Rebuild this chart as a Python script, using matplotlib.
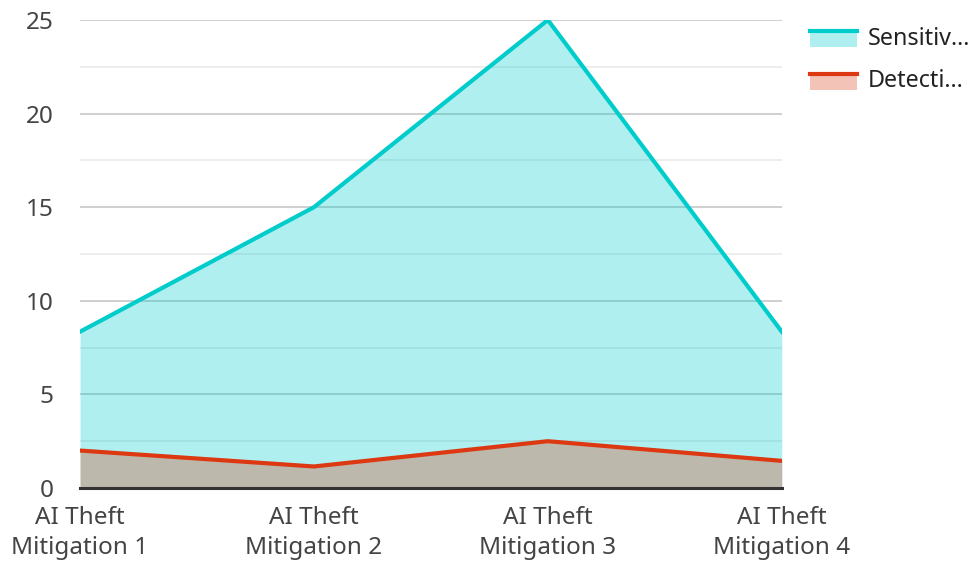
import matplotlib
matplotlib.use("Agg")
import matplotlib.pyplot as plt
from matplotlib.patches import Rectangle
from matplotlib.lines import Line2D

plt.rcParams["font.family"] = ["Noto Sans", "DejaVu Sans"]

categories = ["AI Theft\nMitigation 1", "AI Theft\nMitigation 2",
              "AI Theft\nMitigation 3", "AI Theft\nMitigation 4"]
sensitive = [8.35, 15, 25, 8.35]
detection = [2.0, 1.15, 2.5, 1.45]
series_names = ["Sensitiv…", "Detecti…"]

cyan = "#00CCCC"
red = "#DC3912"

fig = plt.figure(figsize=(9.76, 5.63), dpi=100)
ax = fig.add_axes([0.082, 0.1332, 0.719, 0.8313])

x = list(range(len(categories)))

ax.fill_between(x, 0, sensitive, color=cyan, alpha=0.31, linewidth=0, zorder=2)
ax.plot(x, sensitive, color=cyan, lw=3, zorder=4)
ax.fill_between(x, 0, detection, color=red, alpha=0.3, linewidth=0, zorder=3)
ax.plot(x, detection, color=red, lw=3, zorder=5)

ax.set_xlim(0, 3)
ax.set_ylim(0, 25)
ax.set_yticks([0, 5, 10, 15, 20, 25])
ax.set_yticks([2.5, 7.5, 12.5, 17.5, 22.5], minor=True)
ax.grid(axis="y", which="major", color="#cccccc", lw=1.3, zorder=1)
ax.grid(axis="y", which="minor", color="#e8e8e8", lw=1.1, zorder=1)
ax.axhline(0, color="#333333", lw=2.2, zorder=6, clip_on=False)

ax.set_xticks(x)
ax.set_xticklabels(categories, linespacing=1.35)
ax.tick_params(axis="both", which="both", length=0, labelsize=17.5, labelcolor="#444444")
ax.tick_params(axis="y", pad=19)
ax.tick_params(axis="x", pad=13)
for s in ax.spines.values():
    s.set_visible(False)


class LineOverFill:
    def __init__(self, color, alpha):
        self.color = color
        self.alpha = alpha

    def legend_artist(self, legend, orig_handle, fontsize, handlebox):
        x0, y0 = handlebox.xdescent, handlebox.ydescent
        w, h = handlebox.width, handlebox.height
        rect = Rectangle((x0, y0 - 2), w, h, facecolor=self.color, alpha=self.alpha,
                         edgecolor="none", transform=handlebox.get_transform())
        line = Line2D([x0, x0 + w], [y0 + h - 3, y0 + h - 3], color=self.color, lw=3,
                      transform=handlebox.get_transform())
        handlebox.add_artist(rect)
        handlebox.add_artist(line)
        return rect


h1 = Line2D([], [], color=cyan)
h2 = Line2D([], [], color=red)
leg = fig.legend([h1, h2], series_names, loc="upper left", bbox_to_anchor=(0.808, 0.99),
                 frameon=False, fontsize=16.8,
                 handler_map={h1: LineOverFill(cyan, 0.31), h2: LineOverFill(red, 0.3)},
                 handlelength=2.05, handleheight=0.75, labelspacing=0.8, handletextpad=0.45)
for t in leg.get_texts():
    t.set_color("#222222")

fig.savefig("out.png", dpi=100)
